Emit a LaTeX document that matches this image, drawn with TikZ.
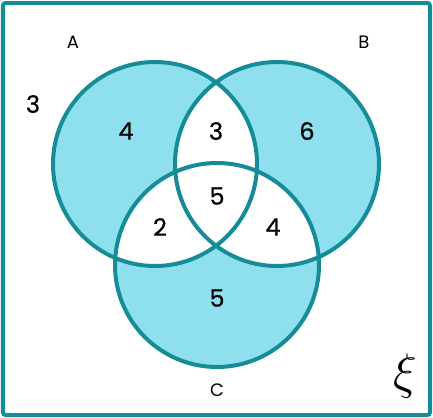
\documentclass[tikz,border=0pt]{standalone}
\usepackage{fontspec}
\setmainfont{Poppins}
\newfontfamily\countfont{Poppins}[FakeBold=0.6]

\definecolor{venn}{HTML}{168C98}
\definecolor{vennfill}{HTML}{8EE0EE}

\tikzset{
    setcircle/.style={
        draw=venn,
        line width=3pt
    },
    count/.style={
        inner sep=0pt,
        font=\countfont\fontsize{18}{18}\selectfont
    },
    setname/.style={
        inner sep=0pt,
        font=\fontsize{13.5}{13.5}\selectfont
    }
}

\begin{document}
\begin{tikzpicture}[x=0.75pt,y=-0.75pt]
    \useasboundingbox (0,0) rectangle (433,418);

    % Mittelpunkte der Mengen
    \coordinate (ca) at (155,164);
    \coordinate (cb) at (277,164);
    \coordinate (cc) at (217,265);

    % Flaechen, die nur zu einer Menge gehoeren
    \fill[vennfill] (ca) circle[radius=76.5pt]
                    (cb) circle[radius=76.5pt]
                    (cc) circle[radius=76.5pt];
    \begin{scope}
        \clip (ca) circle[radius=76.5pt];
        \fill[white] (cb) circle[radius=76.5pt];
        \fill[white] (cc) circle[radius=76.5pt];
    \end{scope}
    \begin{scope}
        \clip (cb) circle[radius=76.5pt];
        \fill[white] (cc) circle[radius=76.5pt];
    \end{scope}

    % Kreise und Rahmen
    \path[setcircle]
        (ca) circle[radius=76.5pt]
        (cb) circle[radius=76.5pt]
        (cc) circle[radius=76.5pt];
    \draw[venn, line width=3pt, rounded corners=2pt] (3,3) rectangle (430,415);

    % Mengennamen
    \path
        node[setname] at ( 73, 42) (na) {A}
        node[setname] at (364, 42) (nb) {B}
        node[setname] at (217,390) (nc) {C}
        node[inner sep=0pt, scale=1.5, font=\fontsize{24}{24}\selectfont] at (405,376) (xi) {$\xi$};

    % Anzahlen
    \path
        node[count] at ( 33,104) (out) {3}
        node[count] at (126,131) (a)   {4}
        node[count] at (216,131) (ab)  {3}
        node[count] at (307,131) (b)   {6}
        node[count] at (217,196) (abc) {5}
        node[count] at (160,227) (ac)  {2}
        node[count] at (273,227) (bc)  {4}
        node[count] at (217,298) (c)   {5};
\end{tikzpicture}
\end{document}
